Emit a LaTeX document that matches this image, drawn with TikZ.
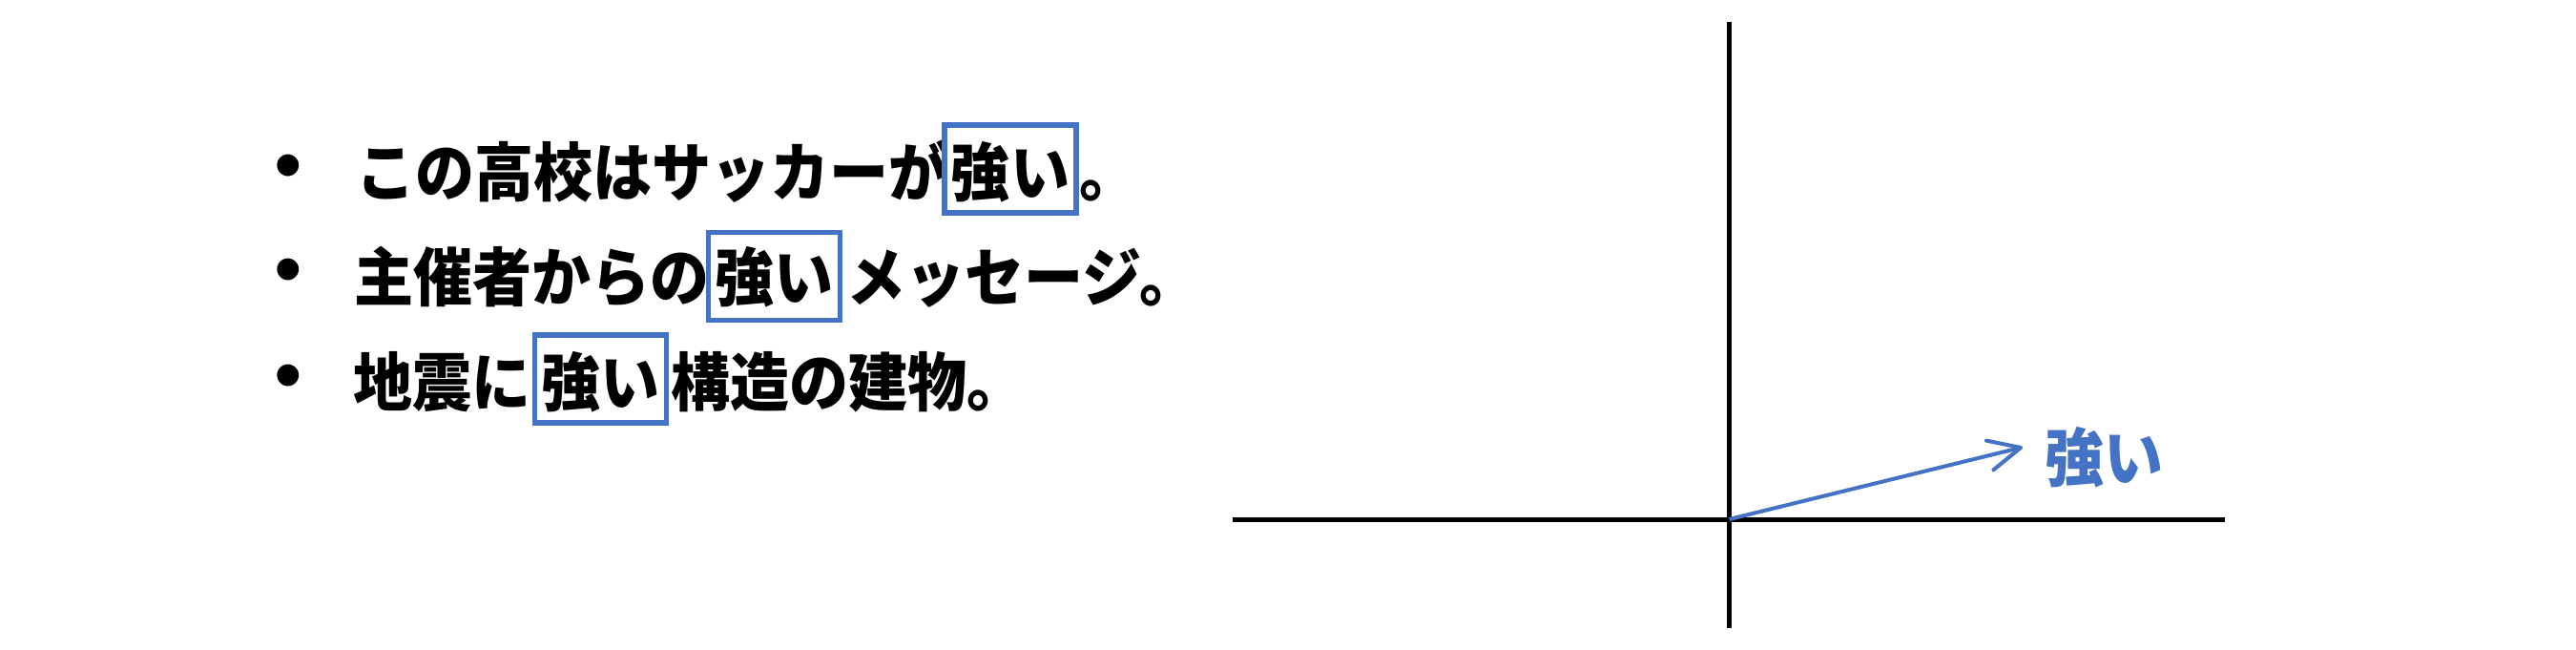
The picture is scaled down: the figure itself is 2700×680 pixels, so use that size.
\documentclass[tikz,border=0pt]{standalone}
\usepackage{fontspec}
\IfFontExistsTF{Noto Sans CJK JP Black}
  {\setmainfont{Noto Sans CJK JP Black}[FakeStretch=0.93]}
  {\setmainfont{Noto Sans CJK JP}[FakeBold=1.5,FakeStretch=0.93]}
\newfontfamily\bulletfont{Liberation Sans}
\usetikzlibrary{arrows.meta}
\definecolor{kblue}{HTML}{4472C4}
\begin{document}
\begin{tikzpicture}[x=0.02cm,y=-0.02cm,
  txt/.style={inner sep=0pt, outer sep=0pt, anchor=base west, font=\fontsize{38pt}{42pt}\selectfont},
  bul/.style={inner sep=0pt, font=\bulletfont\fontsize{48pt}{50pt}\selectfont},
  hbox/.style={draw=kblue, line width=3.3pt, inner sep=0pt, minimum width=2.76cm, minimum height=1.84cm, font=\fontsize{38pt}{42pt}\selectfont, text height=34pt, text depth=1.6pt},
  axis/.style={line width=2.85pt, black},
  vec/.style={line width=2.3pt, kblue, -{Straight Barb[length=19pt,width=18pt,round]}}]
\useasboundingbox (0,0) rectangle (2700,680);
% bullets
\node[bul] (d1) at (302,182) {•};
\node[bul] (d2) at (302,291) {•};
\node[bul] (d3) at (302,402) {•};
% line 1
\node[txt] (l1a) at (373,205.4) {この高校はサッカーが};
\node[hbox] (b1) at (1059,177) {強い};
\node[txt] (l1c) at (1131,205.4) {。};
% line 2
\node[txt] (l2a) at (371,315.4) {主催者からの};
\node[hbox, text height=32.5pt, text depth=3.1pt] (b2) at (811.5,289.5) {強い};
\node[txt] (l2c) at (887,315.4) {メッセージ。};
% line 3
\node[txt] (l3a) at (370,425.4) {地震に};
\node[hbox] (b3) at (629.5,397) {強い};
\node[txt] (l3c) at (703,425.4) {構造の建物。};
% axes
\coordinate (O) at (1812.5,544);
\coordinate (xl) at (1292,544);
\coordinate (xr) at (2332,544);
\coordinate (yt) at (1812.5,23);
\coordinate (yb) at (1812.5,658);
\draw[axis] (xl) -- (xr);
\draw[axis] (yt) -- (yb);
\coordinate (tip) at (2120,468.5);
\draw[vec] (O) -- (tip);
\node[txt, text=kblue] (lab) at (2143,504) {強い};
\end{tikzpicture}
\end{document}
